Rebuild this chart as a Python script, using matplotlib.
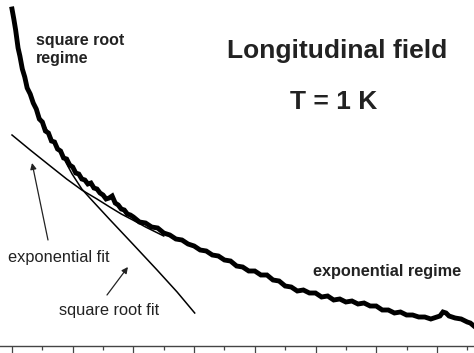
import matplotlib
matplotlib.use("Agg")
import matplotlib.pyplot as plt

plt.rcParams["font.family"] = ["Liberation Sans", "DejaVu Sans"]

TEXT_COLOR = "#222222"
AXIS_COLOR = "#444444"

t_data = [0.00, 0.03, 0.06, 0.10, 0.13, 0.17, 0.21, 0.25, 0.30, 0.35,
          0.40, 0.45, 0.50, 0.55, 0.60, 0.65, 0.70, 0.75, 0.80, 0.85,
          0.90, 0.95, 1.00, 1.05, 1.10, 1.15, 1.20, 1.25, 1.30, 1.35,
          1.40, 1.45, 1.50, 1.55, 1.60, 1.65, 1.70, 1.75, 1.80, 1.85,
          1.90, 1.95, 2.00, 2.10, 2.20, 2.30, 2.40, 2.50, 2.60, 2.70,
          2.80, 2.90, 3.00, 3.10, 3.20, 3.30, 3.40, 3.50, 3.60, 3.70,
          3.80, 3.90, 4.00, 4.10, 4.20, 4.30, 4.40, 4.50, 4.60, 4.70,
          4.80, 4.90, 5.00, 5.10, 5.20, 5.30, 5.40, 5.50, 5.60, 5.70,
          5.80, 5.90, 6.00, 6.10, 6.20, 6.30, 6.40, 6.50, 6.60, 6.70,
          6.80, 6.90, 7.00, 7.05, 7.10, 7.15, 7.20, 7.30, 7.40, 7.50,
          7.55, 7.61]
p_data = [33.7, 32.7, 31.6, 29.8, 29.0, 27.7, 26.9, 25.8, 25.2, 24.3,
          23.7, 22.7, 22.4, 21.5, 21.3, 20.5, 20.4, 19.7, 19.5, 18.8,
          18.7, 18.1, 17.9, 17.3, 17.2, 16.7, 16.6, 16.2, 16.3, 15.8,
          15.7, 15.3, 15.1, 14.7, 14.8, 15.0, 14.3, 14.1, 13.7, 13.6,
          13.2, 13.1, 12.9, 12.4, 12.3, 11.9, 11.8, 11.3, 11.1, 10.7,
          10.6, 10.2, 10.0, 9.6, 9.5, 9.1, 9.0, 8.6, 8.5, 8.0,
          7.9, 7.5, 7.5, 7.1, 7.1, 6.6, 6.5, 6.0, 5.9, 5.5,
          5.6, 5.3, 5.3, 4.9, 5.0, 4.6, 4.7, 4.4, 4.5, 4.2,
          4.3, 4.0, 4.0, 3.6, 3.6, 3.3, 3.4, 3.1, 3.1, 2.9,
          2.9, 2.7, 2.9, 3.0, 3.4, 3.3, 3.0, 2.8, 2.7, 2.4,
          2.3, 2.0]

# fit curves
t_exp = [0.00, 0.30, 0.63, 0.90, 1.15, 1.40, 1.61, 1.80, 1.99, 2.20, 2.50]
p_exp = [21.1, 19.6, 18.0, 16.7, 15.6, 14.7, 13.9, 13.2, 12.6, 11.9, 11.0]

t_sqrt = [0.30, 0.46, 0.63, 0.84, 0.99, 1.15, 1.29, 1.45, 1.61, 1.99, 2.39, 2.72, 3.01]
p_sqrt = [25.1, 22.9, 21.0, 18.9, 17.2, 15.7, 14.75, 13.7, 12.65, 10.2, 7.6, 5.4, 3.3]

major_ticks = [0, 1, 2, 3, 4, 5, 6, 7]
minor_ticks = [0.5, 1.5, 2.5, 3.5, 4.5, 5.5, 6.5, 7.5]


fig = plt.figure(figsize=(4.74, 3.53), dpi=100)
ax = fig.add_axes([0, 7 / 353, 1, 346 / 353])

ax.plot(t_exp, p_exp, color="black", linewidth=1.1, zorder=2)
ax.plot(t_sqrt, p_sqrt, color="black", linewidth=1.1, zorder=2)
ax.plot(t_data, p_data, color="black", linewidth=3.5, zorder=3,
        solid_joinstyle="miter")

ax.set_xlim(-12 / 60.7, 462 / 60.7)
ax.set_ylim(0, 34.6)

for side in ["left", "right", "top"]:
    ax.spines[side].set_visible(False)
ax.spines["bottom"].set_color(AXIS_COLOR)
ax.spines["bottom"].set_linewidth(1.0)
ax.set_yticks([])
ax.set_xticks(major_ticks)
ax.set_xticks(minor_ticks, minor=True)
ax.set_xticklabels([])
ax.tick_params(axis="x", which="major", direction="out", length=5,
               width=0.9, color=AXIS_COLOR)
ax.tick_params(axis="x", which="minor", direction="out", length=3,
               width=0.9, color=AXIS_COLOR)

ax.text(0.395, 29.6, "square root\nregime", fontsize=11.5, fontweight="bold",
        color=TEXT_COLOR, ha="left", va="center", linespacing=1.25)
ax.text(5.36, 28.8, "Longitudinal field", fontsize=19, fontweight="bold",
        color=TEXT_COLOR, ha="center", va="baseline")
ax.text(5.30, 23.7, "T = 1 K", fontsize=19, fontweight="bold",
        color=TEXT_COLOR, ha="center", va="baseline")
ax.text(4.96, 7.0, "exponential regime", fontsize=11.7, fontweight="bold",
        color=TEXT_COLOR, ha="left", va="baseline")
ax.text(-0.066, 8.4, "exponential fit", fontsize=11.8,
        color=TEXT_COLOR, ha="left", va="baseline")
ax.text(0.774, 3.1, "square root fit", fontsize=11.8,
        color=TEXT_COLOR, ha="left", va="baseline")

arrow = dict(arrowstyle="-|>", color=TEXT_COLOR, lw=0.9,
             mutation_scale=9, shrinkA=0, shrinkB=0)
ax.annotate("", xy=(0.33, 18.3), xytext=(0.593, 10.6), arrowprops=arrow)
ax.annotate("", xy=(1.91, 7.9), xytext=(1.565, 5.1), arrowprops=arrow)

fig.savefig("out.png", dpi=100)
